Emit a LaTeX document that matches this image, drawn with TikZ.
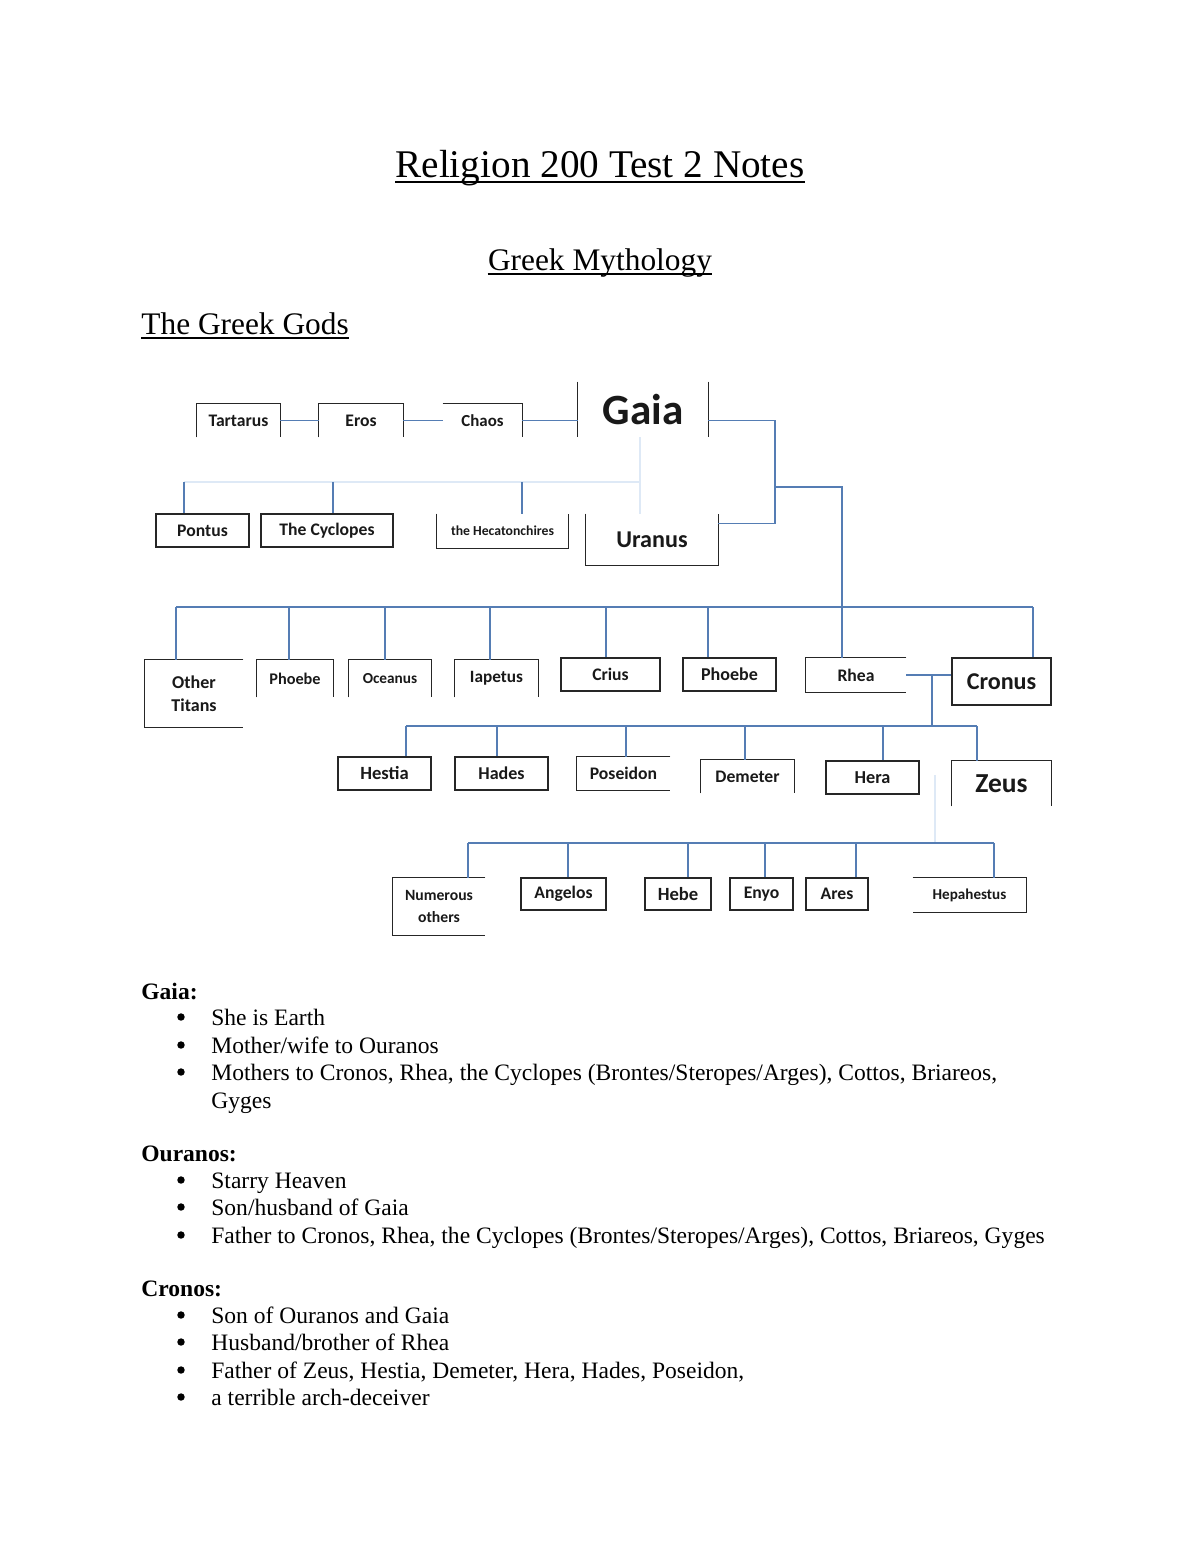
\documentclass[tikz,border=0pt]{standalone}
\usepackage{fontspec}
\setmainfont{Liberation Serif}
\newfontfamily\calib{Carlito}
\usetikzlibrary{positioning,calc}
\definecolor{linkblue}{RGB}{85,125,180}
\definecolor{paleblue}{RGB}{222,233,246}

\begin{document}
\begin{tikzpicture}[x=0.51pt,y=-0.51pt,
  god/.style={font=\calib\bfseries\fontsize{#1}{12}\selectfont, inner sep=0pt, text=black!90},
  god/.default=8.5,
  godbox/.style={god=#1, draw=black!85, line width=0.75pt},
  godbox/.default=8.5,
  godarea/.style n args={4}{minimum width={(#3-#1)*0.51pt}, minimum height={(#4-#2)*0.51pt}, at={({(#1+#3)/2},{(#2+#4)/2})}},
  side/.style={draw=black!85, line width=0.75pt},
  link/.style={draw=linkblue, line width=0.7pt},
  faint/.style={draw=paleblue, line width=0.7pt},
  uline/.style={draw=black, line width=0.9pt},
  head/.style={inner sep=0pt, anchor=base, font=\fontsize{16}{19}\selectfont},
  item/.style={inner sep=0pt, anchor=base west, font=\fontsize{12}{14}\selectfont},
  dot/.style={circle, fill=black, inner sep=0pt, minimum size=3.8pt}]
\useasboundingbox[fill=white] (0,0) rectangle (1200,1553);

\node[head, font=\fontsize{20}{24}\selectfont] (title) at (600,178) {Religion 200 Test 2 Notes};
\node[head] (myth) at (600,270) {Greek Mythology};
\node[head, anchor=base west] (gods) at (141,334) {The Greek Gods};
\foreach \n in {title,myth,gods}
  \draw[uline] ($(\n.base west)+(0,4)$) -- ($(\n.base east)+(0,4)$);

\node[god=9, godarea={197}{404}{280}{437}] (tart) {Tartarus};
\draw[side] (tart.south west) |- (tart.north east) -- (tart.south east);
\node[god=9, godarea={319}{404}{403}{437}] (eros) {Eros};
\draw[side] (eros.south west) |- (eros.north east) -- (eros.south east);
\node[god=8.6, godarea={443}{404}{522}{437}] (chaos) {Chaos};
\draw[side] (chaos.north west) -- (chaos.north east) -- (chaos.south east);
\node[god=22, godarea={578}{382}{708}{437}] (gaia) {Gaia};
\draw[side] (gaia.north west) -- (gaia.south west) (gaia.north east) -- (gaia.south east);

\node[godbox=9, godarea={156}{514}{249}{547}] (pont) {Pontus};
\node[godbox=9, godarea={261}{514}{393}{547}] (cycl) {The Cyclopes};
\node[god=7, godarea={437}{514}{568}{548}] (heca) {the Hecatonchires};
\draw[side] (heca.north west) |- (heca.south east) -- (heca.north east);
\node[god=12.3, godarea={586}{514}{718}{565}] (uran) {Uranus};
\draw[side] (uran.north west) |- (uran.south east) -- (uran.north east);

\draw[link] (tart) -- (eros);
\draw[link] (eros) -- (chaos);
\draw[link] (chaos.east) -- (chaos.east -| gaia.west);
\coordinate (gu) at (775,487);
\draw[link] (gaia.east |- chaos.east) -| (gu) |- ($(uran.north east)+(0,10)$);

\coordinate (gb) at (640,482);
\coordinate (bpont) at (184,482);
\coordinate (bcycl) at (333,482);
\coordinate (bheca) at (522,482);
\draw[faint] (gb |- gaia.south) -- (gb |- uran.north);
\draw[faint] (bpont) -- (gb);
\foreach \n in {pont,cycl,heca}
  \draw[link] (b\n) -- (b\n |- \n.north);

\node[god=9.2, align=center, font=\calib\bfseries\fontsize{9.2}{11.5}\selectfont, godarea={145}{660}{243}{727}] (oth) {Other\\Titans};
\draw[side] (oth.north east) -| (oth.south west) -- (oth.south east);
\node[god=8.3, godarea={257}{660}{333}{697}] (phoa) {Phoebe};
\draw[side] (phoa.south west) |- (phoa.north east) -- (phoa.south east);
\node[god=7.8, godarea={349}{660}{431}{697}] (ocea) {Oceanus};
\draw[side] (ocea.south west) |- (ocea.north east) -- (ocea.south east);
\node[god=8.8, godarea={455}{660}{538}{697}] (iape) {Iapetus};
\draw[side] (iape.south west) |- (iape.north east) -- (iape.south east);
\node[godbox=9, godarea={561}{658}{660}{691}] (criu) {Crius};
\node[godbox=9.2, godarea={683}{658}{776}{691}] (phob) {Phoebe};
\node[god=9, godarea={806}{658}{906}{692}] (rhea) {Rhea};
\draw[side] (rhea.north east) -| (rhea.south west) -- (rhea.south east);
\node[godbox=12.3, godarea={952}{658}{1051}{705}] (cron) {Cronus};

\foreach \n/\x in {oth/176,phoa/289,ocea/385,iape/490,criu/606,phob/708,rhea/842,cron/1033}
  \coordinate (b\n) at (\x,607);
\draw[link] (gu) -| (brhea);
\draw[link] (both) -- (bcron);
\foreach \n in {oth,phoa,ocea,iape,criu,phob,rhea,cron}
  \draw[link] (b\n) -- (b\n |- \n.north);

\draw[link] (rhea.east) -- (rhea.east -| cron.west);
\coordinate (rc) at (932,726);
\draw[link] (rhea.east -| rc) -- (rc);

\node[godbox=9.5, godarea={338}{757}{431}{790}] (hest) {Hestia};
\node[godbox=9.2, godarea={455}{757}{548}{790}] (hade) {Hades};
\node[god=9, godarea={577}{757}{670}{790}] (pose) {Poseidon};
\draw[side] (pose.north east) -| (pose.south west) -- (pose.south east);
\node[god=9, godarea={701}{760}{794}{793}] (deme) {Demeter};
\draw[side] (deme.south west) |- (deme.north east) -- (deme.south east);
\node[godbox=9.3, godarea={826}{761}{919}{794}] (hera) {Hera};
\node[god=14, godarea={952}{761}{1051}{806}] (zeus) {Zeus};
\draw[side] (zeus.south west) |- (zeus.north east) -- (zeus.south east);

\foreach \n/\x in {hest/406,hade/497,pose/626,deme/745,hera/883,zeus/977}
  \coordinate (b\n) at (\x,726);
\draw[link] (bhest) -- (bzeus);
\foreach \n in {hest,hade,pose,deme,hera,zeus}
  \draw[link] (b\n) -- (b\n |- \n.north);

\node[god=8, align=center, font=\calib\bfseries\fontsize{8}{11.5}\selectfont, godarea={393}{878}{485}{935}] (nume) {Numerous\\others};
\draw[side] (nume.north east) -| (nume.south west) -- (nume.south east);
\node[godbox=9, godarea={521}{878}{606}{910}] (ange) {Angelos};
\node[godbox=9.5, godarea={645}{878}{711}{910}] (hebe) {Hebe};
\node[godbox=9, godarea={730}{878}{793}{910}] (enyo) {Enyo};
\node[godbox=9, godarea={806}{878}{868}{910}] (ares) {Ares};
\node[god=7.7, godarea={913}{878}{1026}{912}] (heph) {Hepahestus};
\draw[side] (heph.north west) -| (heph.south east) -- (heph.south west);

\coordinate (zt) at (935,775);
\coordinate (zc) at (935,843);
\draw[faint] (zt) -- (zc);
\foreach \n/\x in {nume/468,ange/568,hebe/688,enyo/765,ares/856,heph/994}
  \coordinate (b\n) at (\x,843);
\draw[link] (bnume) -- (bheph);
\foreach \n in {nume,ange,hebe,enyo,ares,heph}
  \draw[link] (b\n) -- (b\n |- \n.north);

\node[item, font=\bfseries\fontsize{12}{14}\selectfont] (gaiahd) at (141,999) {Gaia:};
\node[item] (g1) at (211,1025) {She is Earth};
\node[item] (g2) at (211,1053) {Mother/wife to Ouranos};
\node[item] (g3) at (211,1080) {Mothers to Cronos, Rhea, the Cyclopes (Brontes/Steropes/Arges), Cottos, Briareos,};
\node[item] (g4) at (211,1108) {Gyges};
\foreach \y in {1025,1053,1080}
  \node[dot] (d\y) at (181,\y-8) {};

\node[item, font=\bfseries\fontsize{12}{14}\selectfont] (ourahd) at (141,1161) {Ouranos:};
\node[item] (o1) at (211,1188) {Starry Heaven};
\node[item] (o2) at (211,1215) {Son/husband of Gaia};
\node[item] (o3) at (211,1243) {Father to Cronos, Rhea, the Cyclopes (Brontes/Steropes/Arges), Cottos, Briareos, Gyges};
\foreach \y in {1188,1215,1243}
  \node[dot] (d\y) at (181,\y-8) {};

\node[item, font=\bfseries\fontsize{12}{14}\selectfont] (cronhd) at (141,1296) {Cronos:};
\node[item] (c1) at (211,1323) {Son of Ouranos and Gaia};
\node[item] (c2) at (211,1350) {Husband/brother of Rhea};
\node[item] (c3) at (211,1378) {Father of Zeus, Hestia, Demeter, Hera, Hades, Poseidon,};
\node[item] (c4) at (211,1405) {a terrible arch-deceiver};
\foreach \y in {1323,1350,1378,1405}
  \node[dot] (d\y) at (181,\y-8) {};
\end{tikzpicture}
\end{document}
